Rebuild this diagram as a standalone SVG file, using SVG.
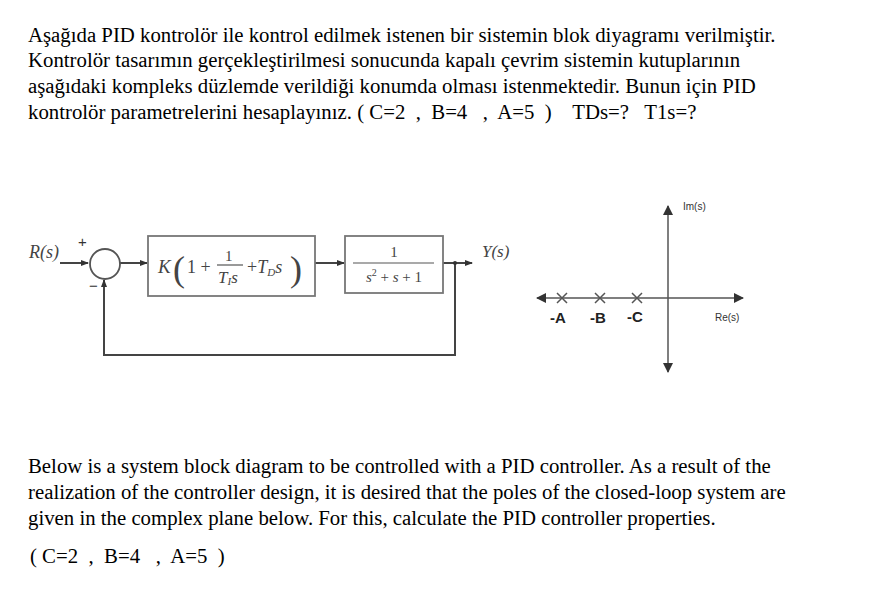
<svg xmlns="http://www.w3.org/2000/svg" width="871" height="598" viewBox="0 0 871 598">
<style>
.t{font-family:"Liberation Serif",serif;font-size:20.8px;fill:#000}
.m{font-family:"Liberation Serif",serif;font-style:italic;fill:#444}
.n{font-style:normal}
.s{font-family:"Liberation Sans",sans-serif;fill:#333}
.l{stroke:#444;stroke-width:2;fill:none}
.b{stroke:#777;stroke-width:1.8;fill:#fff}
</style>
<defs>
<marker id="a" markerWidth="8" markerHeight="8" refX="7" refY="4" orient="auto" markerUnits="userSpaceOnUse"><path d="M0,1 L8,4 L0,7z" fill="#333"/></marker>
<marker id="p" markerWidth="10" markerHeight="10" refX="9" refY="5" orient="auto-start-reverse" markerUnits="userSpaceOnUse"><path d="M0,0 L10,5 L0,10z" fill="#333"/></marker>
</defs>
<rect width="871" height="598" fill="#fff"/>
<g id="text-top">
<text class="t" x="28" y="42">Aşağıda PID kontrolör ile kontrol edilmek istenen bir sistemin blok diyagramı verilmiştir.</text>
<text class="t" x="28" y="67">Kontrolör tasarımın gerçekleştirilmesi sonucunda kapalı çevrim sistemin kutuplarının</text>
<text class="t" x="28" y="93">aşağıdaki kompleks düzlemde verildiği konumda olması istenmektedir. Bunun için PID</text>
<text class="t" x="28" y="119" xml:space="preserve">kontrolör parametrelerini hesaplayınız. ( C=2  ,  B=4   ,  A=5  )    TDs=?   T1s=?</text>
</g>
<g id="text-bottom">
<text class="t" x="28" y="473">Below is a system block diagram to be controlled with a PID controller. As a result of the</text>
<text class="t" x="28" y="499">realization of the controller design, it is desired that the poles of the closed-loop system are</text>
<text class="t" x="28" y="525">given in the complex plane below. For this, calculate the PID controller properties.</text>
<text class="t" x="30" y="563" xml:space="preserve">( C=2  ,  B=4   ,  A=5  )</text>
</g>
<g id="connectors">
<path class="l" d="M60,263 H88" marker-end="url(#a)"/>
<path class="l" d="M120,263 H147" marker-end="url(#a)"/>
<path class="l" d="M315,263 H344" marker-end="url(#a)"/>
<path class="l" d="M443,263 H472" marker-end="url(#a)"/>
<path class="l" d="M455,263 V355 H104 V280" marker-end="url(#a)"/>
<circle cx="455" cy="263" r="2" fill="#333"/>
</g>
<g id="sum">
<circle class="b" cx="105" cy="264" r="15" style="stroke:#555"/>
<text class="m" x="29" y="258" font-size="18">R(s)</text>
<text class="s" x="78" y="247" font-size="15">+</text>
<text class="s" x="89" y="291" font-size="15">−</text>
</g>
<g id="pid">
<rect class="b" x="148" y="236" width="167" height="60"/>
<text class="m" x="158" y="273" font-size="19">K</text>
<text class="m n" x="173" y="281" font-size="36">(</text>
<text class="m n" x="187" y="273" font-size="18">1 +</text>
<text class="m n" x="225" y="261" font-size="15">1</text>
<line x1="217" y1="265" x2="243" y2="265" stroke="#555" stroke-width="1.2"/>
<text class="m" x="218" y="283" font-size="17">T<tspan font-size="11" dy="2">I</tspan><tspan dy="-2">s</tspan></text>
<text class="m" x="247" y="273" font-size="18"><tspan class="n">+</tspan>T<tspan font-size="11" dy="3">D</tspan><tspan dy="-3">s</tspan></text>
<text class="m n" x="290" y="281" font-size="36">)</text>
</g>
<g id="plant">
<rect class="b" x="345" y="236" width="98" height="57"/>
<text class="m n" x="394" y="257" font-size="15" text-anchor="middle">1</text>
<line x1="353" y1="263" x2="434" y2="263" stroke="#555" stroke-width="1.2"/>
<text class="m" x="394" y="282" font-size="15" text-anchor="middle">s<tspan class="n" font-size="10" dy="-6">2</tspan><tspan class="n" dy="6"> + </tspan>s<tspan class="n"> + 1</tspan></text>
<text class="m" x="482" y="257" font-size="17">Y(s)</text>
</g>
<g id="plane">
<line x1="668" y1="206" x2="668" y2="372" stroke="#555" stroke-width="1.5" marker-start="url(#p)" marker-end="url(#p)"/>
<line x1="537" y1="298" x2="743" y2="298" stroke="#555" stroke-width="1.5" marker-start="url(#p)" marker-end="url(#p)"/>
<g stroke="#555" stroke-width="1.5">
<path d="M557,293 l10,10 M567,293 l-10,10"/>
<path d="M595,293 l10,10 M605,293 l-10,10"/>
<path d="M632,293 l10,10 M642,293 l-10,10"/>
</g>
<text class="s" x="683" y="210" font-size="10">Im(s)</text>
<text class="s" x="715" y="321" font-size="10">Re(s)</text>
<text x="550" y="323" font-family="Liberation Sans,sans-serif" font-weight="bold" font-size="15" fill="#222">-A</text>
<text x="590" y="323" font-family="Liberation Sans,sans-serif" font-weight="bold" font-size="15" fill="#222">-B</text>
<text x="627" y="322" font-family="Liberation Sans,sans-serif" font-weight="bold" font-size="15" fill="#222">-C</text>
</g>
</svg>
